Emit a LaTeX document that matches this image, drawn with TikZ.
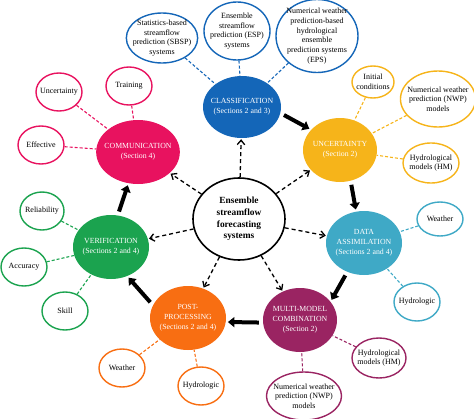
\documentclass[tikz,border=0pt]{standalone}
\usepackage{fontspec}
\setmainfont{Liberation Serif}
\usetikzlibrary{shapes.geometric,arrows.meta}

\definecolor{clsblue}{HTML}{1466B8}
\definecolor{comred}{HTML}{E8125F}
\definecolor{uncyel}{HTML}{F6B41A}
\definecolor{dateal}{HTML}{3FA9C6}
\definecolor{mmcpur}{HTML}{9A2462}
\definecolor{ppora}{HTML}{F86E12}
\definecolor{vergrn}{HTML}{1BA34F}

\begin{document}
\begin{tikzpicture}[x=1pt,y=-1pt,
 sat/.style={ellipse,draw,line width=1.4pt,fill=white,inner sep=-4pt,align=center,text=black,font=\fontsize{8}{9.7}\selectfont},
 main/.style={ellipse,inner sep=-4pt,align=center,text=white,font=\fontsize{7.8}{10}\selectfont},
 link/.style={line width=1.1pt,dash pattern=on 3pt off 2pt},
 spoke/.style={-{Straight Barb[length=4.5pt,width=7.5pt]},line width=1.3pt,dash pattern=on 4pt off 3pt,shorten >=1pt},
 flow/.style={-{Triangle[length=6.5pt,width=10pt]},line width=4pt,shorten <=4pt,shorten >=2pt}]
 \useasboundingbox (0,0) rectangle (474,418);

 \node[ellipse,draw,line width=1.6pt,inner sep=-4pt,align=center,minimum width=92pt,minimum height=82pt,
   font=\fontsize{9.4}{11.7}\selectfont\bfseries] (esf) at (239,219) {Ensemble\\streamflow\\forecasting\\systems};

 \node[main,fill=clsblue,minimum width=78pt,minimum height=62pt] (cls) at (242,107) {CLASSIFICATION\\(Sections 2 and 3)};
 \node[main,fill=uncyel,minimum width=74pt,minimum height=64pt] (unc) at (340,150) {UNCERTAINTY\\(Section 2)};
 \node[main,fill=dateal,minimum width=76pt,minimum height=64pt] (da) at (364,243) {DATA\\ASSIMILATION\\(Sections 2 and 4)};
 \node[main,fill=mmcpur,minimum width=74pt,minimum height=64pt] (mmc) at (300,320) {MULTI-MODEL\\COMBINATION\\(Section 2)};
 \node[main,fill=ppora,minimum width=76pt,minimum height=64pt] (pp) at (188,318) {POST-\\PROCESSING\\(Sections 2 and 4)};
 \node[main,fill=vergrn,minimum width=76pt,minimum height=64pt] (ver) at (111,247) {VERIFICATION\\(Sections 2 and 4)};
 \node[main,fill=comred,minimum width=76pt,minimum height=64pt] (com) at (138,152) {COMMUNICATION\\(Section 4)};

 \node[sat,draw=clsblue,minimum width=70pt,minimum height=50pt] (sbsp) at (162,38) {Statistics-based\\streamflow\\prediction (SBSP)\\systems};
 \node[sat,draw=clsblue,minimum width=66pt,minimum height=58pt] (esp) at (237,31) {Ensemble\\streamflow\\prediction (ESP)\\systems};
 \node[sat,draw=clsblue,minimum width=82pt,minimum height=73pt] (eps) at (317,36) {Numerical weather\\prediction-based\\hydrological\\ensemble\\prediction systems\\(EPS)};

 \node[sat,draw=uncyel,minimum width=42pt,minimum height=32pt] (ini) at (373,82) {Initial\\conditions};
 \node[sat,draw=uncyel,minimum width=72pt,minimum height=56pt] (nwpu) at (438,99) {Numerical weather\\prediction (NWP)\\models};
 \node[sat,draw=uncyel,minimum width=56pt,minimum height=40pt] (hmu) at (431,163) {Hydrological\\models (HM)};

 \node[sat,draw=dateal,minimum width=46pt,minimum height=34pt] (wda) at (440,219) {Weather};
 \node[sat,draw=dateal,minimum width=46pt,minimum height=38pt] (hda) at (417,302) {Hydrologic};

 \node[sat,draw=mmcpur,minimum width=54pt,minimum height=40pt] (hmm) at (379,358) {Hydrological\\models (HM)};
 \node[sat,draw=mmcpur,minimum width=72pt,minimum height=48pt] (nwpm) at (304,396) {Numerical weather\\prediction (NWP)\\models};

 \node[sat,draw=ppora,minimum width=46pt,minimum height=38pt] (wpp) at (122,368) {Weather};
 \node[sat,draw=ppora,minimum width=46pt,minimum height=38pt] (hpp) at (201,386) {Hydrologic};

 \node[sat,draw=vergrn,minimum width=44pt,minimum height=38pt] (rel) at (42,211) {Reliability};
 \node[sat,draw=vergrn,minimum width=46pt,minimum height=38pt] (acc) at (24,267) {Accuracy};
 \node[sat,draw=vergrn,minimum width=46pt,minimum height=38pt] (skl) at (65,311) {Skill};

 \node[sat,draw=comred,minimum width=46pt,minimum height=38pt] (eff) at (41,145) {Effective};
 \node[sat,draw=comred,minimum width=46pt,minimum height=38pt] (unct) at (59,92) {Uncertainty};
 \node[sat,draw=comred,minimum width=46pt,minimum height=38pt] (trn) at (129,86) {Training};

 \draw[link,clsblue] (sbsp) -- (cls);
 \draw[link,clsblue] (esp) -- (cls);
 \draw[link,clsblue] (eps) -- (cls);
 \draw[link,uncyel] (ini) -- (unc);
 \draw[link,uncyel] (nwpu) -- (unc);
 \draw[link,uncyel] (hmu) -- (unc);
 \draw[link,dateal] (wda) -- (da);
 \draw[link,dateal] (hda) -- (da);
 \draw[link,mmcpur] (hmm) -- (mmc);
 \draw[link,mmcpur] (nwpm) -- (mmc);
 \draw[link,ppora] (wpp) -- (pp);
 \draw[link,ppora] (hpp) -- (pp);
 \draw[link,vergrn] (rel) -- (ver);
 \draw[link,vergrn] (acc) -- (ver);
 \draw[link,vergrn] (skl) -- (ver);
 \draw[link,comred] (eff) -- (com);
 \draw[link,comred] (unct) -- (com);
 \draw[link,comred] (trn) -- (com);

 \draw[spoke] (esf) -- (cls);
 \draw[spoke] (esf) -- (unc);
 \draw[spoke] (esf) -- (da);
 \draw[spoke] (esf) -- (mmc);
 \draw[spoke] (esf) -- (pp);
 \draw[spoke] (esf) -- (ver);
 \draw[spoke] (esf) -- (com);

 \draw[flow] (cls.-9) -- (unc.145);
 \draw[flow] (unc.-71) -- (da.104);
 \draw[flow] (da.-120) -- (mmc.31);
 \draw[flow] (mmc.184) -- (pp.-6);
 \draw[flow] (pp.160) -- (ver.-61);
 \draw[flow] (ver.78) -- (com.-107);
\end{tikzpicture}
\end{document}
